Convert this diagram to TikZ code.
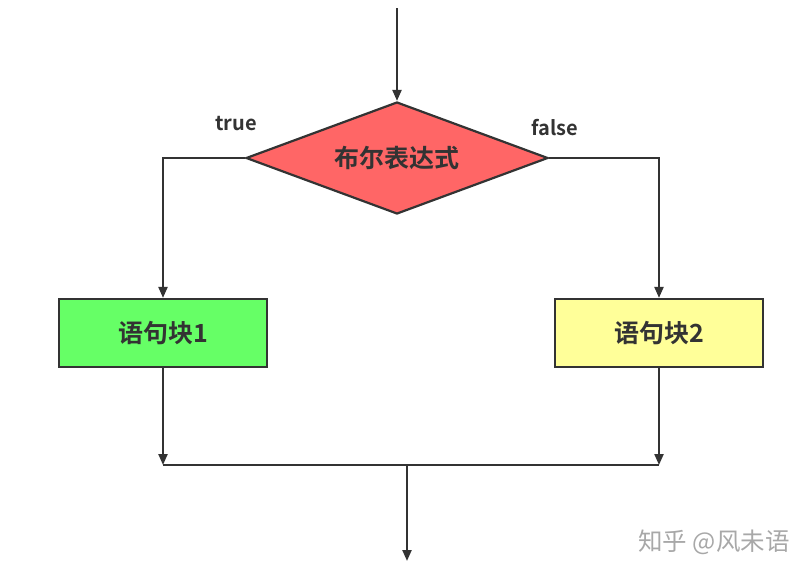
\documentclass[tikz,border=0pt]{standalone}
\usepackage{fontspec}
\setmainfont{Noto Sans}
\newfontfamily\cjk{Noto Sans CJK SC}
\newfontfamily\cjkb{Noto Sans CJK SC Bold}
\usetikzlibrary{shapes.geometric,arrows.meta}
\definecolor{lc}{HTML}{333333}
\definecolor{dfill}{HTML}{FF6666}
\definecolor{gfill}{HTML}{66FF66}
\definecolor{yfill}{HTML}{FFFF99}
\definecolor{wm}{HTML}{A8A8A8}
\begin{document}
\begin{tikzpicture}[x=1pt,y=-1pt,
  line/.style={draw=lc,line width=2.2pt},
  arr/.style={line,-{Triangle[length=11pt,width=9pt]}},
  cond/.style={diamond,draw=lc,line width=2.2pt,fill=dfill,minimum width=302pt,minimum height=112pt,aspect=2.7,inner sep=0pt,font=\cjkb\fontsize{25}{28}\selectfont,text=lc},
  blockbox/.style={rectangle,draw=lc,line width=2.2pt,minimum width=208pt,minimum height=68pt,inner sep=0pt,font=\cjkb\fontsize{25}{28}\selectfont,text=lc},
  lbl/.style={font=\cjkb\fontsize{20}{22}\selectfont,text=lc,inner sep=0pt}
]
\useasboundingbox (0,0) rectangle (809,574);
\coordinate (start) at (397,8);
\node[cond] (d) at (397,158) {布尔表达式};
\node[blockbox,fill=gfill] (b1) at (163,333) {语句块1};
\node[blockbox,fill=yfill] (b2) at (659,333) {语句块2};
\coordinate (j1) at (163,465);
\coordinate (j2) at (659,465);
\coordinate (m) at (407,465);
\coordinate (end) at (407,561);
\node[lbl] (t) at (236,124) {true};
\node[lbl] (f) at (555,128) {false};
\draw[arr] (start) -- (d.north);
\draw[arr] (d.west) -| (b1.north);
\draw[arr] (d.east) -| (b2.north);
\draw[arr] (b1.south) -- (j1);
\draw[arr] (b2.south) -- (j2);
\draw[line] (j1) -- (j2);
\draw[arr] (m) -- (end);
\node[font=\cjk\fontsize{24.5}{27}\selectfont,text=wm,inner sep=0pt] (w) at (714,542) {知乎 @风未语};
\end{tikzpicture}
\end{document}
